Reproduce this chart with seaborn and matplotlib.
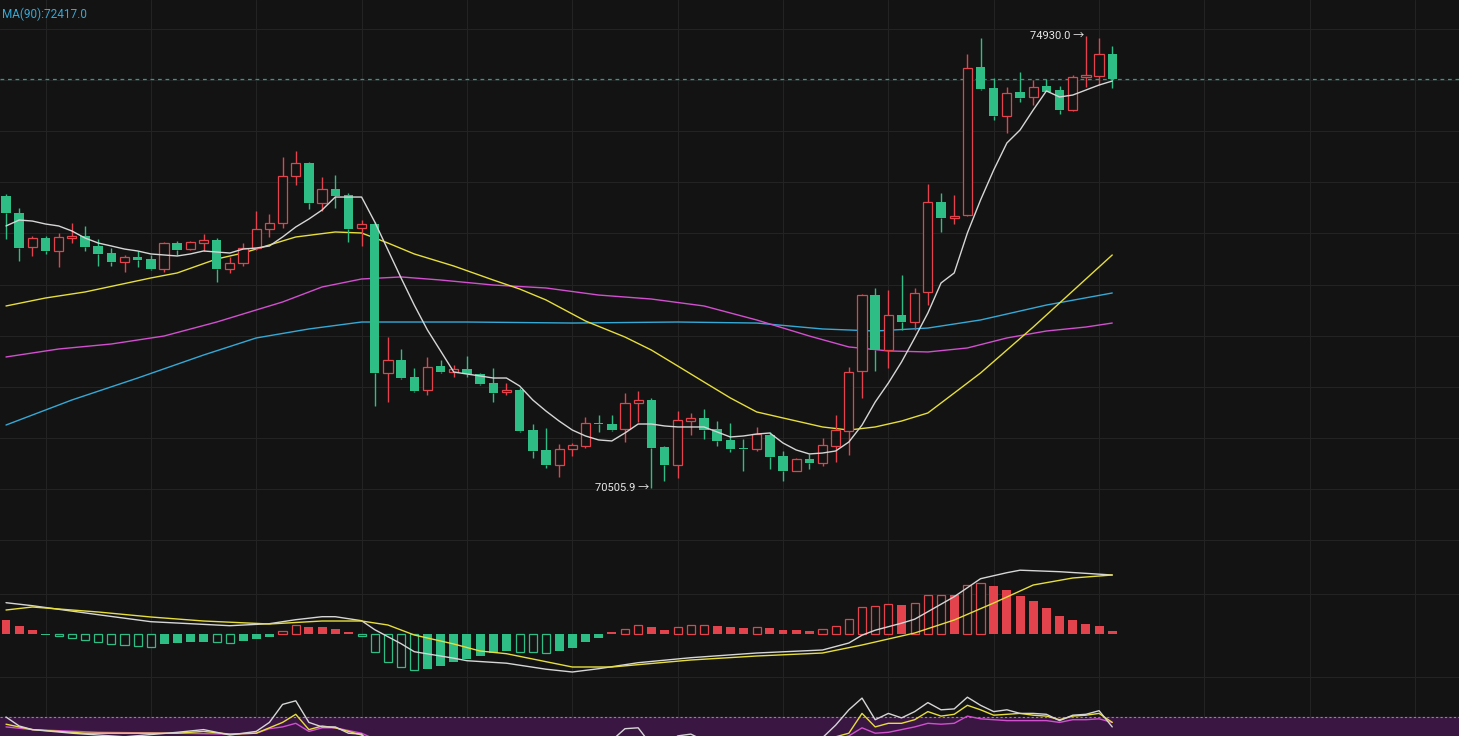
import numpy as np
import matplotlib
matplotlib.use("Agg")
import matplotlib.pyplot as plt
import seaborn as sns

# -----------------------------
# Data
# -----------------------------

opens = [73366, 73200, 72867, 72955, 72828, 72955, 72975, 72877, 72808, 72720,
         72769, 72750, 72652, 72906, 72847, 72906, 72936, 72652, 72710, 72857,
         73043, 73102, 73562, 73689, 73298, 73435, 73376, 73053, 73092, 71634,
         71761, 71595, 71468, 71703, 71644, 71673, 71624, 71536, 71448, 71468,
         71076, 70881, 70734, 70890, 70920, 71145, 71135, 71086, 71341, 71370,
         70910, 70734, 71164, 71194, 71086, 70979, 70900, 70890, 71027, 70822,
         70675, 70793, 70753, 70920, 71067, 71654, 72397, 71859, 72202, 72133,
         72427, 73307, 73151, 73180, 74628, 74423, 74149, 74384, 74335, 74442,
         74403, 74208, 74531, 74540, 74756]
highs = [73386, 73249, 72975, 72975, 73004, 73102, 73073, 72945, 72857, 72789,
         72828, 72789, 72916, 72926, 72926, 72994, 72955, 72769, 72906, 73219,
         73190, 73748, 73806, 73699, 73552, 73572, 73395, 73131, 73112, 71986,
         71869, 71683, 71791, 71761, 71712, 71800, 71634, 71683, 71536, 71487,
         71135, 71096, 70939, 70949, 71204, 71223, 71223, 71438, 71458, 71390,
         70915, 71262, 71243, 71282, 71164, 71145, 70988, 71106, 71057, 70871,
         70802, 70842, 70998, 71223, 71693, 72405, 72466, 72446, 72593, 72466,
         73483, 73395, 73376, 74756, 74912, 74521, 74433, 74579, 74501, 74511,
         74442, 74550, 74930, 74912, 74834]
lows = [72945, 72730, 72779, 72799, 72671, 72906, 72828, 72681, 72681, 72622,
        72671, 72642, 72622, 72789, 72838, 72828, 72525, 72613, 72681, 72838,
        72965, 73053, 73474, 73239, 73219, 73249, 72916, 72877, 71311, 71350,
        71575, 71448, 71419, 71634, 71595, 71595, 71517, 71350, 71419, 71060,
        70802, 70705, 70617, 70822, 70900, 71057, 71070, 70959, 71155, 70505.9,
        70577, 70607, 71027, 70988, 70920, 70861, 70675, 70871, 70695, 70577,
        70675, 70695, 70724, 70763, 70832, 71390, 71654, 71683, 72055, 72055,
        72299, 73014, 73092, 73170, 74405, 74110, 73982, 74286, 74256, 74380,
        74168, 74200, 74433, 74452, 74423]
closes = [73200, 72857, 72955, 72828, 72965, 72975, 72867, 72799, 72720, 72769,
          72740, 72652, 72906, 72838, 72916, 72936, 72652, 72710, 72857, 73043,
          73102, 73562, 73689, 73298, 73435, 73366, 73043, 73092, 71634, 71761,
          71585, 71458, 71693, 71644, 71673, 71624, 71527, 71438, 71468, 71067,
          70871, 70734, 70890, 70930, 71145, 71135, 71076, 71341, 71370, 70900,
          70734, 71174, 71194, 71076, 70969, 70890, 70890, 71037, 70812, 70675,
          70793, 70753, 70930, 71076, 71644, 72397, 71859, 72202, 72133, 72417,
          73307, 73151, 73170, 74619, 74413, 74149, 74374, 74325, 74433, 74384,
          74208, 74531, 74550, 74756, 74509]

# white MA (fast), one value per candle
ma_fast = [73073, 73131, 73121, 73092, 73073, 73024, 72955, 72906, 72877, 72847,
           72828, 72799, 72789, 72779, 72799, 72828, 72818, 72808, 72847, 72857,
           72877, 72965, 73063, 73141, 73229, 73356, 73356, 73356, 73112, 72838,
           72564, 72299, 72055, 71850, 71644, 71624, 71605, 71585, 71585, 71507,
           71370, 71262, 71164, 71076, 71018, 70979, 70969, 71047, 71135, 71135,
           71116, 71106, 71106, 71106, 71057, 71008, 71018, 71037, 71047, 70949,
           70881, 70842, 70851, 70871, 70959, 71125, 71350, 71536, 71742, 71977,
           72221, 72515, 72613, 73004, 73327, 73621, 73885, 74012, 74208, 74394,
           74335, 74354, 74403, 74452, 74491]

ma_mid_idx = [0, 3, 6, 11, 13, 16, 18, 20, 22, 25, 27, 29, 31, 34, 37, 39, 41, 44,
              47, 49, 51, 53, 55, 57, 59, 62, 64, 66, 68, 70, 72, 74, 76, 78, 80, 82, 84]
ma_mid = [72290, 72368, 72427, 72564, 72613, 72750, 72808, 72887, 72965, 73014,
          73004, 72906, 72799, 72681, 72544, 72456, 72349, 72143, 71986, 71859,
          71703, 71546, 71390, 71253, 71194, 71106, 71076, 71106, 71164, 71243,
          71438, 71634, 71859, 72084, 72319, 72554, 72789]

ma_slow_idx = [0, 4, 8, 12, 16, 19, 21, 24, 27, 30, 33, 37, 41, 45, 49, 53, 57,
               61, 64, 67, 70, 73, 76, 79, 82, 84]
ma_slow = [71791, 71869, 71918, 71996, 72133, 72251, 72329, 72476, 72554, 72574,
           72544, 72495, 72466, 72397, 72358, 72290, 72153, 71996, 71889, 71850,
           71840, 71879, 71977, 72045, 72084, 72123]

ma90_idx = [0, 5, 10, 15, 19, 23, 27, 35, 43, 51, 57, 62, 66, 70, 74, 79, 84]
ma90 = [71125, 71370, 71585, 71810, 71977, 72065, 72133, 72133, 72123, 72133,
        72123, 72065, 72045, 72074, 72153, 72299, 72417]

# MACD panel
macd_hist = [13.7, 7.7, 3.7, -1.0, -2.5, -4.5, -6.5, -8.5, -10.5, -11.7,
             -12.7, -13.3, -10.5, -9.7, -8.7, -8.0, -8.7, -9.3, -7.5, -5.5,
             -2.8, 3.0, 8.7, 6.7, 6.5, 4.7, 1.8, -2.0, -18.7, -28.0,
             -33.5, -36.5, -34.8, -32.0, -28.0, -25.0, -22.0, -19.5, -17.0, -18.0,
             -18.7, -19.0, -17.0, -14.0, -8.0, -4.0, 1.3, 4.3, 8.3, 6.7,
             3.7, 6.3, 8.3, 8.5, 7.7, 6.7, 5.3, 6.3, 5.3, 3.7,
             3.4, 2.7, 4.3, 7.7, 14.3, 26.3, 27.7, 29.3, 29.0, 30.3,
             38.3, 39.0, 38.3, 49.0, 51.0, 48.0, 43.7, 37.7, 32.7, 26.0,
             17.7, 13.7, 9.7, 7.7, 3.0]
dif_idx = [0, 2, 7, 11, 17, 20, 22, 24, 25, 27, 28, 30, 31, 34, 35, 38, 41, 43, 45,
           48, 52, 57, 62, 64, 65, 66, 68, 69, 70, 72, 74, 76, 77, 80, 84]
dif = [31, 28, 19, 12, 8, 10, 14, 17, 17, 13, 4, -10, -18, -24.5, -27, -29.5,
       -35.5, -38.3, -35, -29, -24, -19.3, -16.3, -9.3, -1.5, 3.5, 10.5, 14.5,
       22, 37, 55, 61, 63.5, 62, 58.7]
dea_idx = [0, 2, 7, 11, 15, 20, 24, 27, 29, 31, 34, 36, 38, 43, 46, 52, 57, 62,
           65, 69, 72, 75, 78, 81, 84]
dea = [23.7, 26.7, 21.7, 16.7, 12.7, 9.7, 12.7, 12.7, 8.7, -1.3, -10.3, -17.3,
       -20, -33.3, -33.3, -26.3, -22.3, -19.3, -11.3, 0.7, 13.7, 30.7, 48.7,
       55.7, 58.7]

# RSI panel
rsi6_idx = [0, 1, 2, 5, 9, 13, 15, 17, 19, 20, 21, 22, 23, 24, 25, 26, 27, 28, 30, 33,
            35, 37, 40, 43, 45, 46, 47, 48, 49, 50, 51, 52, 53, 55, 57, 59, 61, 62, 63, 64,
            65, 66, 67, 68, 69, 70, 71, 72, 73, 74, 75, 76, 77, 78, 79, 80, 81, 82, 83, 84]
rsi6 = [70, 60, 56, 52, 48, 53, 56, 50, 54, 64, 84, 88, 64, 59, 59, 52, 51, 28, 30, 35,
        40, 33, 25, 30, 42, 44, 57, 58, 39, 36, 49, 51, 44, 38, 45, 35, 40, 47, 61, 78,
        91, 67, 74, 69, 76, 86, 78, 79, 92, 83, 76, 78, 74, 74, 73, 66, 72, 73, 77, 59]
rsi12_idx = [0, 2, 6, 13, 15, 17, 19, 20, 21, 22, 23, 24, 25, 27, 29, 33, 37, 41, 45, 48,
             52, 56, 60, 62, 63, 64, 65, 66, 67, 68, 69, 70, 71, 72, 73, 74, 75, 76, 77, 78,
             79, 80, 81, 82, 83, 84]
rsi12 = [62, 56, 52, 52, 54, 51, 52, 58, 64, 73, 56, 60, 58, 50, 33, 38, 36, 33, 40, 45,
         44, 40, 41, 44, 48, 52, 74, 59, 63, 63, 67, 76, 71, 73, 83, 78, 72, 73, 74, 72,
         71, 67, 71, 72, 74, 64]
rsi24_idx = [0, 2, 7, 13, 17, 19, 20, 21, 22, 23, 24, 25, 27, 29, 33, 37, 41, 45, 49, 53,
             57, 62, 64, 65, 66, 67, 68, 69, 70, 71, 72, 73, 74, 75, 76, 77, 78, 79, 80, 81,
             82, 83, 84]
rsi24 = [59, 56, 53, 52, 51, 52, 57, 59, 63, 54, 58, 58, 52, 39, 40, 39, 37, 41, 42, 43,
         42, 42, 49, 58, 52, 53, 56, 59, 63, 62, 63, 71, 68, 67, 66, 66, 66, 66, 64, 67,
         67, 68, 64]

high_label = "74930.0 \u2192"
low_label = "70505.9 \u2192"
ma90_label = "MA(90):72417.0"

# -----------------------------
# Style
# -----------------------------

BG = "#131313"
GRID = "#232323"
RED = "#e2434d"
GREEN = "#2ebd85"
PRICE_LINE = "#2a9d8a"
WHITE = "#d6d6d6"
YELLOW = "#e6de3c"
MAGENTA = "#d24fcf"
CYAN = "#35a9d6"

sns.set_theme(style="dark", rc={"axes.facecolor": BG, "figure.facecolor": BG})
plt.rcParams["font.family"] = ["Roboto", "Noto Sans CJK SC", "DejaVu Sans"]

W, H = 1459, 736
fig = plt.figure(figsize=(W / 100, H / 100), dpi=100)

def panel(top, bottom):
    ax = fig.add_axes([0, 1 - bottom / H, 1, (bottom - top) / H])
    ax.set_facecolor(BG)
    for s in ax.spines.values():
        s.set_visible(False)
    ax.tick_params(length=0, labelleft=False, labelbottom=False)
    ax.set_xlim(-0.456, 110.33)
    ax.set_xticks(np.arange(3, 111, 8))
    ax.grid(True, color=GRID, linewidth=0.8)
    ax.set_axisbelow(True)
    return ax

idx = np.arange(len(closes))
o = np.array(opens, float)
c = np.array(closes, float)
hi = np.array(highs, float)
lo = np.array(lows, float)

# -----------------------------
# Price panel
# -----------------------------

ax = panel(0, 545)
ax.set_ylim(69951, 75284)
ax.set_yticks(np.arange(70000, 75001, 500))

up = c >= o
body_lo = np.minimum(o, c)
body_hi = np.maximum(o, c)
body_h = np.maximum(body_hi - body_lo, 12)
colors = np.where(up, RED, GREEN)

ax.vlines(idx, body_hi, hi, color=colors, linewidth=1.0, zorder=3)
ax.vlines(idx, lo, body_lo, color=colors, linewidth=1.0, zorder=3)
ax.bar(idx[up], body_h[up], bottom=body_lo[up], width=0.7,
       facecolor=BG, edgecolor=RED, linewidth=0.9, zorder=4)
ax.bar(idx[~up], body_h[~up], bottom=body_lo[~up], width=0.72,
       color=GREEN, linewidth=0, zorder=4)

sns.lineplot(x=ma90_idx, y=ma90, ax=ax, color=CYAN, linewidth=1.0, zorder=2)
sns.lineplot(x=ma_slow_idx, y=ma_slow, ax=ax, color=MAGENTA, linewidth=1.0, zorder=2)
sns.lineplot(x=ma_mid_idx, y=ma_mid, ax=ax, color=YELLOW, linewidth=1.0, zorder=2)
sns.lineplot(x=idx, y=ma_fast, ax=ax, color=WHITE, linewidth=1.0, zorder=5)
ax.set_xlabel("")
ax.set_ylabel("")

# last price line
ax.axhline(closes[-1], color=PRICE_LINE, linestyle=(0, (3, 3)), linewidth=0.9, zorder=1)

i_hi = int(np.argmax(hi))
i_lo = int(np.argmin(lo))
ax.text(i_hi - 0.1, hi[i_hi], high_label, ha="right", va="center",
        color="#e8e8e8", fontsize=8)
ax.text(i_lo - 0.15, lo[i_lo], low_label, ha="right", va="center",
        color="#e8e8e8", fontsize=8)

fig.text(2 / W, 1 - 14 / H, ma90_label, ha="left", va="center",
         color=CYAN, fontsize=8.5)

# -----------------------------
# MACD panel
# -----------------------------

mx = panel(545, 690)
mx.set_ylim(-56.3, 88.7)
mx.set_yticks([39.7, -43.3])

hist = np.array(macd_hist)
prev = np.concatenate([[np.inf], np.abs(hist[:-1])])
grow = np.abs(hist) > prev
pos = hist >= 0
for m_pos, col in ((True, RED), (False, GREEN)):
    sel = (pos == m_pos)
    mx.bar(idx[sel & ~grow], hist[sel & ~grow], width=0.68, color=col,
           linewidth=0, zorder=3)
    mx.bar(idx[sel & grow], hist[sel & grow], width=0.62, facecolor=BG,
           edgecolor=col, linewidth=0.9, zorder=3)

sns.lineplot(x=dif_idx, y=dif, ax=mx, color=WHITE, linewidth=1.0, zorder=4)
sns.lineplot(x=dea_idx, y=dea, ax=mx, color=YELLOW, linewidth=1.0, zorder=4)
mx.set_xlabel("")
mx.set_ylabel("")

# -----------------------------
# RSI panel
# -----------------------------

rx = panel(690, 736)
rx.set_ylim(48.9, 100)
rx.set_yticks([])
rx.axhspan(30, 70, color="#3a1643", zorder=1)
rx.axhline(70, color="#8a8a8a", linestyle=(0, (2, 2)), linewidth=0.8, zorder=2)
sns.lineplot(x=rsi24_idx, y=rsi24, ax=rx, color=MAGENTA, linewidth=1.0, zorder=3)
sns.lineplot(x=rsi12_idx, y=rsi12, ax=rx, color=YELLOW, linewidth=1.0, zorder=3)
sns.lineplot(x=rsi6_idx, y=rsi6, ax=rx, color=WHITE, linewidth=1.0, zorder=4)
rx.set_xlabel("")
rx.set_ylabel("")

fig.savefig("out.png", dpi=100, facecolor=BG)
